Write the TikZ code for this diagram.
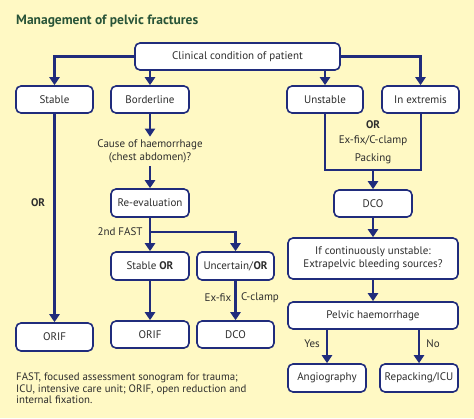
\documentclass[tikz,border=0pt]{standalone}
\usepackage{fontspec}
\setmainfont{PT Sans}
\usetikzlibrary{arrows.meta,positioning}
\definecolor{bg}{RGB}{255,249,196}
\definecolor{navy}{RGB}{32,44,124}
\definecolor{ttl}{RGB}{40,84,56}
\definecolor{txt}{RGB}{45,45,45}
\tikzset{
  box/.style={draw=navy, line width=1.6pt, fill=white, rounded corners=5pt, inner sep=0pt,
    minimum width=77pt, minimum height=27pt, text=txt, font=\fontsize{11}{13}\selectfont, align=center},
  arr/.style={draw=navy, line width=2.8pt, -{Triangle[width=10pt,length=8pt]}},
  ln/.style={draw=navy, line width=2.8pt},
  lbl/.style={text=txt, font=\fontsize{11}{13}\selectfont, inner sep=0pt, align=center}
}
\begin{document}
\begin{tikzpicture}[x=1pt,y=-1pt]
\fill[bg] (0,0) rectangle (474,418);
\useasboundingbox (0,0) rectangle (474,418);
\node[anchor=west, text=ttl, font=\fontsize{13.5}{15}\selectfont\bfseries, inner sep=0pt] (title) at (16,21) {Management of pelvic fractures};

\node[box, minimum width=205pt] (clin) at (237.5,56.5) {Clinical condition of patient};
\node[box] (stable) at (54.5,99.5) {Stable};
\node[box, minimum width=78pt] (border) at (150,99.5) {Borderline};
\node[box, minimum width=76pt] (unst) at (325,99.5) {Unstable};
\node[box] (extr) at (420.5,99.5) {In extremis};

\node[lbl, inner sep=2pt] (cause) at (150,151.5) {Cause of haemorrhage\\(chest abdomen)?};
\node[box, minimum width=78pt, minimum height=28pt] (reeval) at (150,203) {Re-evaluation};
\node[box, minimum width=78pt, minimum height=28pt] (stor) at (150,266) {Stable \textbf{OR}};
\node[box, minimum height=28pt] (unc) at (235.5,266) {Uncertain/\textbf{OR}};
\node[box, minimum height=28pt] (orif1) at (54.5,337) {ORIF};
\node[box, minimum width=78pt] (orif2) at (150,334.5) {ORIF};
\node[box] (dco2) at (235.5,334.5) {DCO};

\node[box, minimum width=78pt] (dco1) at (373,203.5) {DCO};
\node[box, minimum width=170pt, minimum height=41pt] (ifc) at (373,258.5) {If continuously unstable:\\Extrapelvic bleeding sources?};
\node[box, minimum width=170pt] (pelv) at (373,315.5) {Pelvic haemorrhage};
\node[box, minimum width=78pt, minimum height=28pt] (angio) at (327,378) {Angiography};
\node[box, minimum width=78pt, minimum height=28pt] (repack) at (419,378) {Repacking/ICU};

% labels
\node[lbl, font=\fontsize{11}{13}\selectfont\bfseries] (or1) at (38,203) {OR};
\node[lbl] (fast) at (120,232) {2nd FAST};
\node[lbl] (exfix) at (218,298) {Ex-fix};
\node[lbl] (cclamp) at (260,298) {C-clamp};
\node[lbl, font=\fontsize{11}{13}\selectfont\bfseries] (or2) at (373,125) {OR};
\node[lbl] (exc) at (373,140.5) {Ex-fix/C-clamp};
\node[lbl] (pack) at (373,159) {Packing};
\node[lbl] (yes) at (312,344) {Yes};
\node[lbl] (no) at (433,344) {No};

\node[anchor=north west, text=txt, font=\fontsize{10.8}{11.7}\selectfont, align=left, inner sep=0pt] (foot) at (16,372.5)
  {FAST, focused assessment sonogram for trauma;\\ICU, intensive care unit; ORIF, open reduction and\\internal fixation.};

% connectors
\draw[arr] (clin.west) -| (stable.north);
\draw[arr] (border.north |- clin.south) -- (border.north);
\draw[arr] (unst.north |- clin.south) -- (unst.north);
\draw[arr] (clin.east) -| (extr.north);
\draw[arr] (border.south) -- ([yshift=1pt]cause.north);
\draw[arr] ([yshift=-1pt]cause.south) -- (reeval.north);
\draw[arr] (reeval.south) -- (stor.north);
\coordinate (br) at (150,232);
\draw[arr] (br) -| (unc.north);
\draw[arr] (stor.south) -- (orif2.north);
\draw[arr] (unc.south) -- (dco2.north);
\draw[arr] (stable.south) -- (orif1.north);
\coordinate (ua) at (325,170);
\coordinate (ub) at (421,170);
\coordinate (um) at (373,170);
\draw[ln] (unst.south) -- (ua) -- (ub) -- (extr.south -| ub);
\draw[arr] (um) -- (dco1.north);
\draw[arr] (dco1.south) -- (ifc.north);
\draw[arr] (ifc.south) -- (pelv.north);
\draw[arr] (angio.north |- pelv.south) -- (angio.north);
\draw[arr] (repack.north |- pelv.south) -- (repack.north);
\end{tikzpicture}
\end{document}
